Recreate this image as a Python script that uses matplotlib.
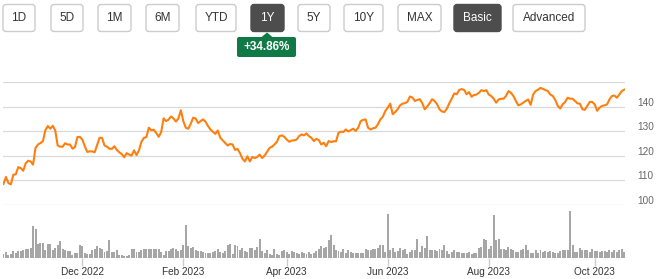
import numpy as np
import pandas as pd
import matplotlib
matplotlib.use("Agg")
import matplotlib.pyplot as plt
from matplotlib.patches import FancyBboxPatch, Polygon
from matplotlib.transforms import ScaledTranslation

plt.rcParams['font.family'] = ['Liberation Sans', 'DejaVu Sans']

# daily closes
price = [
    108.6, 111.4, 108.9, 108.4, 112.3, 112.5, 115.4, 115.0, 113.9, 116.9,
    118.0, 117.7, 116.4, 123.2, 124.6, 125.2, 125.9, 130.4, 132.1, 131.0,
    132.2, 130.3, 124.2, 123.7, 123.7, 125.1, 124.6, 124.6, 122.9, 123.5,
    127.6, 127.7, 126.6, 123.9, 121.6, 121.8, 121.8, 121.4, 124.3, 127.3,
    127.3, 124.2, 123.7, 122.9, 122.8, 123.9, 122.4, 121.4, 120.7, 119.4,
    121.1, 120.5, 120.1, 122.2, 120.3, 122.2, 125.7, 127.3, 127.6, 131.4,
    130.4, 130.6, 129.3,
    127.7, 129.6, 135.2, 134.1, 134.7, 136.0, 135.2, 133.9, 135.2, 138.5,
    134.1, 131.4, 131.0, 133.0, 135.5, 135.2, 133.3, 134.1, 134.8, 133.9,
    132.1, 130.7, 129.8, 128.9, 130.3, 127.3, 126.3, 125.2, 124.2, 124.8,
    124.6, 122.4, 122.8, 121.1, 118.8, 117.7, 119.8, 117.7, 119.5, 119.1,
    119.5, 120.5, 119.1, 120.1, 121.6, 123.2, 123.7, 124.6, 125.7, 128.0,
    128.3, 127.7, 126.6, 125.7, 126.2, 126.3, 126.6, 128.0, 128.7, 128.3,
    129.1, 128.0,
    127.3, 126.0, 126.9, 126.4, 124.6, 125.3, 123.9, 126.0, 125.6, 125.9,
    125.9, 129.4, 129.8, 129.7, 130.7, 129.9, 130.5, 131.0, 130.1, 131.4,
    134.1, 134.6, 134.8, 131.4, 130.7, 131.2, 131.4, 132.8, 134.8, 135.9,
    138.2, 139.6, 141.2, 136.9, 137.8, 138.9, 140.5, 141.2, 141.4, 142.0,
    144.1, 143.7, 142.3, 142.7, 143.0, 141.4, 138.9, 140.0, 141.4, 143.0,
    142.3, 141.0, 138.9, 138.0, 137.8, 139.2, 141.4, 143.3, 145.4, 145.0,
    146.8, 147.1, 146.8, 145.0,
    145.9, 144.0, 144.7, 144.9, 145.6, 146.7, 146.3, 146.7, 144.9, 144.3,
    143.2, 141.6, 142.9, 143.2, 143.2, 144.3, 146.3, 145.6, 144.3, 142.3,
    140.5, 140.9, 141.6, 142.3, 142.9, 140.7, 144.9, 146.3, 146.9, 147.6,
    147.2, 146.7, 146.3, 144.9, 144.3, 142.7, 140.3, 139.2, 140.9, 141.9,
    143.6, 143.2, 143.2, 142.3, 141.3, 141.2, 138.9, 138.7, 140.3, 141.9,
    141.9, 140.9, 138.3, 139.6, 140.3, 140.5, 140.9, 142.9, 144.3, 144.5,
    143.6, 144.9, 146.3, 146.9,
]

# daily volume (millions, approx.)
volume = [
    13, 18, 8, 13, 20, 16, 20, 20, 23, 28,
    26, 31, 95, 86, 41, 46, 44, 23, 43, 43,
    25, 30, 38, 50, 28, 23, 21, 20, 10, 15,
    16, 40, 35, 16, 13, 13, 25, 28, 35, 30,
    28, 18, 20, 53, 18, 18, 23, 8, 8, 5,
    5, 8, 28, 26, 18, 18, 23, 28, 28, 28,
    28, 26, 26, 26, 18, 10, 21, 20, 28, 30,
    28, 21, 23, 38, 98, 36, 30, 33, 23, 20,
    20, 18, 15, 15, 16, 18, 20, 26, 18, 15,
    21, 40, 43, 13, 40, 36, 23, 30, 20, 18,
    30, 30, 25, 33, 58, 20, 16, 23, 13, 10,
    28, 13, 10, 21, 23, 18, 13, 21, 18, 15,
    13, 18, 16, 13, 18, 13, 16, 20, 26,
    36, 31, 33, 53, 68, 38, 25, 20, 18, 28,
    16, 23, 18, 16, 16, 15, 15, 16, 28, 25,
    23, 26, 28, 30, 40, 38, 18, 131, 25, 31,
    18, 20, 31, 25, 26, 13, 18, 23, 23, 56,
    18, 35, 31, 65, 25, 25, 23, 21, 28, 23,
    40, 21, 13, 18, 23, 18, 18, 16, 16, 15,
    18, 13, 16, 15, 30, 33, 56, 53, 28, 36,
    128, 53, 56, 28, 28, 23, 33, 28, 23, 18,
    18, 23, 28, 38, 25, 16, 15, 23, 15, 23,
    18, 20, 18, 21, 18, 16, 16, 21, 23, 25,
    23, 140, 38, 18, 18, 31, 23, 23, 23, 18,
    28, 21, 21, 18, 21, 21, 18, 23, 18, 25,
    18, 23, 28, 18,
]

start_date = "2022-10-17"
holidays = ["2022-11-24", "2022-12-26", "2023-01-02", "2023-01-16", "2023-02-20",
            "2023-04-07", "2023-05-29", "2023-06-19", "2023-07-04", "2023-09-04"]
tick_months = ["2022-12", "2023-02", "2023-04", "2023-06", "2023-08", "2023-10"]
tick_labels = ["Dec 2022", "Feb 2023", "Apr 2023", "Jun 2023", "Aug 2023", "Oct 2023"]
price_ticks = [100, 110, 120, 130, 140, 150]

range_buttons = ["1D", "5D", "1M", "6M", "YTD", "1Y", "5Y", "10Y", "MAX"]
mode_buttons = ["Basic", "Advanced"]
active = ["1Y", "Basic"]
change_label = "+34.86%"

n = min(len(price), len(volume))
price = price[:n]
volume = volume[:n]
days = pd.date_range(start_date, periods=n,
                     freq=pd.offsets.CustomBusinessDay(holidays=holidays))
idx = np.arange(n)
months = np.array(days.strftime("%Y-%m"))
tick_pos = [int(np.argmax(months == m)) for m in tick_months]

W, H = 658, 279
fig = plt.figure(figsize=(W / 100, H / 100), dpi=100)


def frac(x0, y0, x1, y1):
    return [x0 / W, 1 - y1 / H, (x1 - x0) / W, (y1 - y0) / H]


xlim = (-0.2, n - 0.7)

# price pane
ax = fig.add_axes(frac(3, 82, 625, 205))
ax.plot(idx, price, color="#ff7f0e", lw=1.5, solid_joinstyle="round", zorder=3)
ax.set_xlim(*xlim)
ax.set_ylim(price_ticks[0], price_ticks[-1])
ax.set_yticks(price_ticks)
ax.set_yticklabels([str(t) for t in price_ticks[:-1]] + [""])
ax.yaxis.tick_right()
ax.tick_params(axis="y", length=0, pad=8.5, labelsize=7.2, labelcolor="#666666")
ax.set_xticks([])
ax.grid(axis="y", color="#d9d9d9", lw=0.9)
for s in ax.spines.values():
    s.set_visible(False)
ax.patch.set_alpha(0)
shift = ScaledTranslation(0, 0.05, fig.dpi_scale_trans)
for lab in ax.get_yticklabels():
    lab.set_transform(lab.get_transform() + shift)

# volume pane
axv = fig.add_axes(frac(3, 205, 625, 258))
axv.bar(idx, volume, width=0.8, color="#a6a6a6", linewidth=0)
axv.set_xlim(*xlim)
axv.set_ylim(0, max(volume) * 1.13)
axv.set_yticks([])
axv.set_xticks(tick_pos)
axv.set_xticklabels(tick_labels)
axv.tick_params(axis="x", length=5.5, width=1, color="#cccccc", pad=1,
                labelsize=7.2, labelcolor="#333333")
for s in axv.spines.values():
    s.set_visible(False)
axv.patch.set_alpha(0)

# buttons and change badge
ui = fig.add_axes([0, 0, 1, 1])
ui.set_xlim(0, W)
ui.set_ylim(H, 0)
ui.axis("off")

btn_x = [3, 51, 98, 146, 196, 251, 298, 344, 398, 454, 513]
btn_w = [32, 32, 33, 33, 40, 33, 32, 39, 43, 47, 72]
for name, x0, w in zip(range_buttons + mode_buttons, btn_x, btn_w):
    on = name in active
    ui.add_patch(FancyBboxPatch((x0, 4.5), w, 27, boxstyle="round,pad=0,rounding_size=3",
                                fc="#4d4d4d" if on else "white",
                                ec="#4d4d4d" if on else "#cccccc", lw=1))
    ui.text(x0 + w / 2, 18, name, ha="center", va="center", fontsize=8.5,
            color="white" if on else "#333333")

green = "#0f7a45"
ui.add_patch(Polygon([(261, 37.5), (267, 32.5), (273, 37.5)], closed=True, fc=green, ec="none"))
ui.add_patch(FancyBboxPatch((237, 37), 59, 20, boxstyle="round,pad=0,rounding_size=2",
                            fc=green, ec="none"))
ui.text(266.5, 47, change_label, ha="center", va="center", fontsize=8.5,
        color="white", fontweight="bold")

fig.savefig("out.png", dpi=100)
